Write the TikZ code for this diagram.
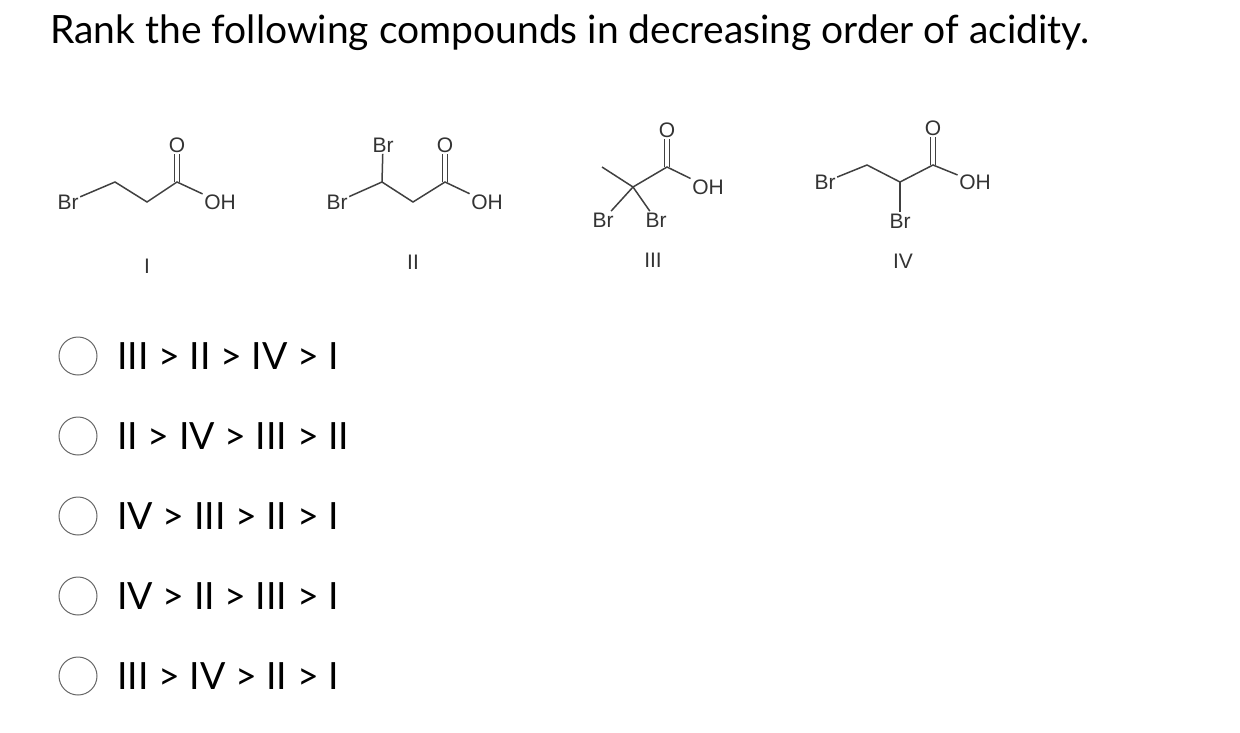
\documentclass[tikz,border=0pt]{standalone}
\usepackage{fontspec}
\setmainfont{Lato}
\newfontfamily\chemfont{Liberation Sans}
\begin{document}
\begin{tikzpicture}[x=1pt,y=-1pt,
  lab/.style={font=\chemfont\fontsize{21}{21}\selectfont, inner sep=1.5pt, text=black!80},
  rom/.style={font=\chemfont\fontsize{21}{21}\selectfont, text=black!80},
  bond/.style={line width=1.5pt, black!75},
  opt/.style={circle, draw=black!60, line width=1pt, minimum size=38pt, inner sep=0pt},
  optt/.style={font=\fontsize{37.5}{37.5}\selectfont, anchor=west, inner sep=0pt}]
\useasboundingbox (0,0) rectangle (1240,732);
\node[anchor=west, inner sep=0pt, font=\fontsize{39}{39}\selectfont] (title) at (50,33) {Rank the following compounds in decreasing order of acidity.};
% I
\node[lab] (a1) at (68,202) {Br};
\coordinate (a2) at (115,182); \coordinate (a3) at (147,202); \coordinate (a4) at (177,182);
\node[lab] (aO) at (177,145) {O}; \node[lab] (aOH) at (220,202) {OH};
\draw[bond] (a1) -- (a2) -- (a3) -- (a4) -- (aOH);
\draw[bond] ([xshift=-2.5pt]a4) -- ([xshift=-2.5pt]aO.south); \draw[bond] ([xshift=2.5pt]a4) -- ([xshift=2.5pt]aO.south);
\node[rom] (r1) at (147,266) {I};
% II
\node[lab] (b1) at (337,202) {Br};
\coordinate (b2) at (382,182); \coordinate (b3) at (413,202); \coordinate (b4) at (445,182);
\node[lab] (bBr) at (383,145) {Br};
\node[lab] (bO) at (445,145) {O}; \node[lab] (bOH) at (487,202) {OH};
\draw[bond] (b1) -- (b2) -- (b3) -- (b4) -- (bOH); \draw[bond] (b2) -- (bBr);
\draw[bond] ([xshift=-2.5pt]b4) -- ([xshift=-2.5pt]bO.south); \draw[bond] ([xshift=2.5pt]b4) -- ([xshift=2.5pt]bO.south);
\node[rom] (r2) at (413,262) {II};
% III
\coordinate (c0) at (602,167); \coordinate (c1) at (633,187); \coordinate (c2) at (667,167);
\node[lab] (cBrL) at (603,220) {Br}; \node[lab] (cBrR) at (656,220) {Br};
\node[lab] (cO) at (667,130) {O}; \node[lab] (cOH) at (708,187) {OH};
\draw[bond] (c0) -- (c1) -- (c2) -- (cOH); \draw[bond] (c1) -- (cBrL); \draw[bond] (c1) -- (cBrR);
\draw[bond] ([xshift=-2.5pt]c2) -- ([xshift=-2.5pt]cO.south); \draw[bond] ([xshift=2.5pt]c2) -- ([xshift=2.5pt]cO.south);
\node[rom] (r3) at (653,260) {III};
% IV
\node[lab] (d1) at (825,182) {Br};
\coordinate (d2) at (867,165); \coordinate (d3) at (900,182); \coordinate (d4) at (933,165);
\node[lab] (dBr) at (900,221) {Br};
\node[lab] (dO) at (933,128) {O}; \node[lab] (dOH) at (975,182) {OH};
\draw[bond] (d1) -- (d2) -- (d3) -- (d4) -- (dOH); \draw[bond] (d3) -- (dBr);
\draw[bond] ([xshift=-2.5pt]d4) -- ([xshift=-2.5pt]dO.south); \draw[bond] ([xshift=2.5pt]d4) -- ([xshift=2.5pt]dO.south);
\node[rom] (r4) at (903,261) {IV};
% options
\foreach \y/\t [count=\i] in {356/{III > II > IV > I},436/{II > IV > III > II},516/{IV > III > II > I},596/{IV > II > III > I},676/{III > IV > II > I}}{
  \node[opt] (o\i) at (78,\y) {};
  \node[optt] (t\i) at (117,\y) {\t};
}
\end{tikzpicture}
\end{document}
